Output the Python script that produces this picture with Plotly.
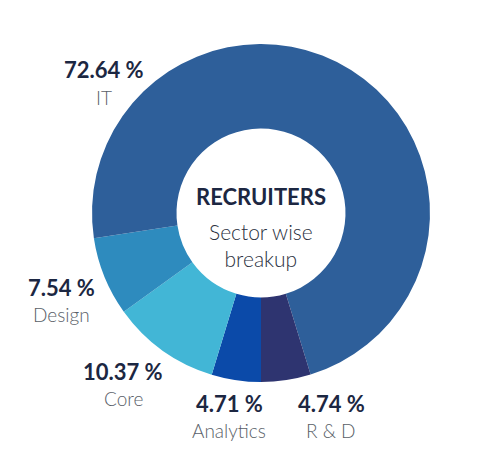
import plotly.graph_objects as go

# sector share of recruiters (%), clockwise from the bottom
sectors = ["Analytics", "Core", "Design", "IT", "R & D"]
shares = [4.71, 10.37, 7.54, 72.64, 4.74]
colors = ["#0b4aa9", "#42b6d6", "#2e8bbe", "#2e5f9a", "#2e3470"]

W, H = 478, 465
OFF = 8  # page margin the browser adds around the figure

# label anchor points in pixels (percent line centre), by sector
label_pos = {
    "IT": (104, 70),
    "Design": (61, 287),
    "Core": (123, 371),
    "Analytics": (229, 403),
    "R & D": (331, 403),
}


def px2paper(x, y):
    return (x - OFF) / W, 1 - (y - OFF) / H


cx, cy, r = 261, 213, 169
x0, y0 = px2paper(cx - r, cy + r)
x1, y1 = px2paper(cx + r, cy - r)

fig = go.Figure(go.Pie(
    labels=sectors,
    values=shares,
    hole=0.5,
    sort=False,
    direction="clockwise",
    rotation=180,
    marker=dict(colors=colors, line=dict(width=0)),
    textinfo="none",
    hoverinfo="label+percent",
    domain=dict(x=[x0, x1], y=[y0, y1]),
    showlegend=False,
))

annotations = []
for name, val in zip(sectors, shares):
    px, py = label_pos[name]
    ax, ay = px2paper(px, py)
    annotations.append(dict(
        x=ax, y=ay, xref="paper", yref="paper",
        xanchor="center", yanchor="middle",
        text=f"<b>{val:.2f} %</b>", showarrow=False,
        font=dict(family="Lato", size=22, color="#1c2742"),
    ))
    ax, ay = px2paper(px, py + 27)
    annotations.append(dict(
        x=ax, y=ay, xref="paper", yref="paper",
        xanchor="center", yanchor="middle",
        text=name, showarrow=False,
        font=dict(family="Lato", size=19, color="#5a5f69", weight=300),
    ))

# centre text
ax, ay = px2paper(cx, 196)
annotations.append(dict(
    x=ax, y=ay, xref="paper", yref="paper",
    xanchor="center", yanchor="middle",
    text="<b>RECRUITERS</b>", showarrow=False,
    font=dict(family="Lato", size=22, color="#1c2742"),
))
ax, ay = px2paper(cx, 245)
annotations.append(dict(
    x=ax, y=ay, xref="paper", yref="paper",
    xanchor="center", yanchor="middle",
    text="Sector wise<br>breakup", showarrow=False,
    font=dict(family="Lato", size=21, color="#2a3040", weight=300),
))

fig.update_layout(
    width=W, height=H,
    margin=dict(l=0, r=0, t=0, b=0),
    paper_bgcolor="white",
    plot_bgcolor="white",
    annotations=annotations,
)

fig.write_html("out.html")
